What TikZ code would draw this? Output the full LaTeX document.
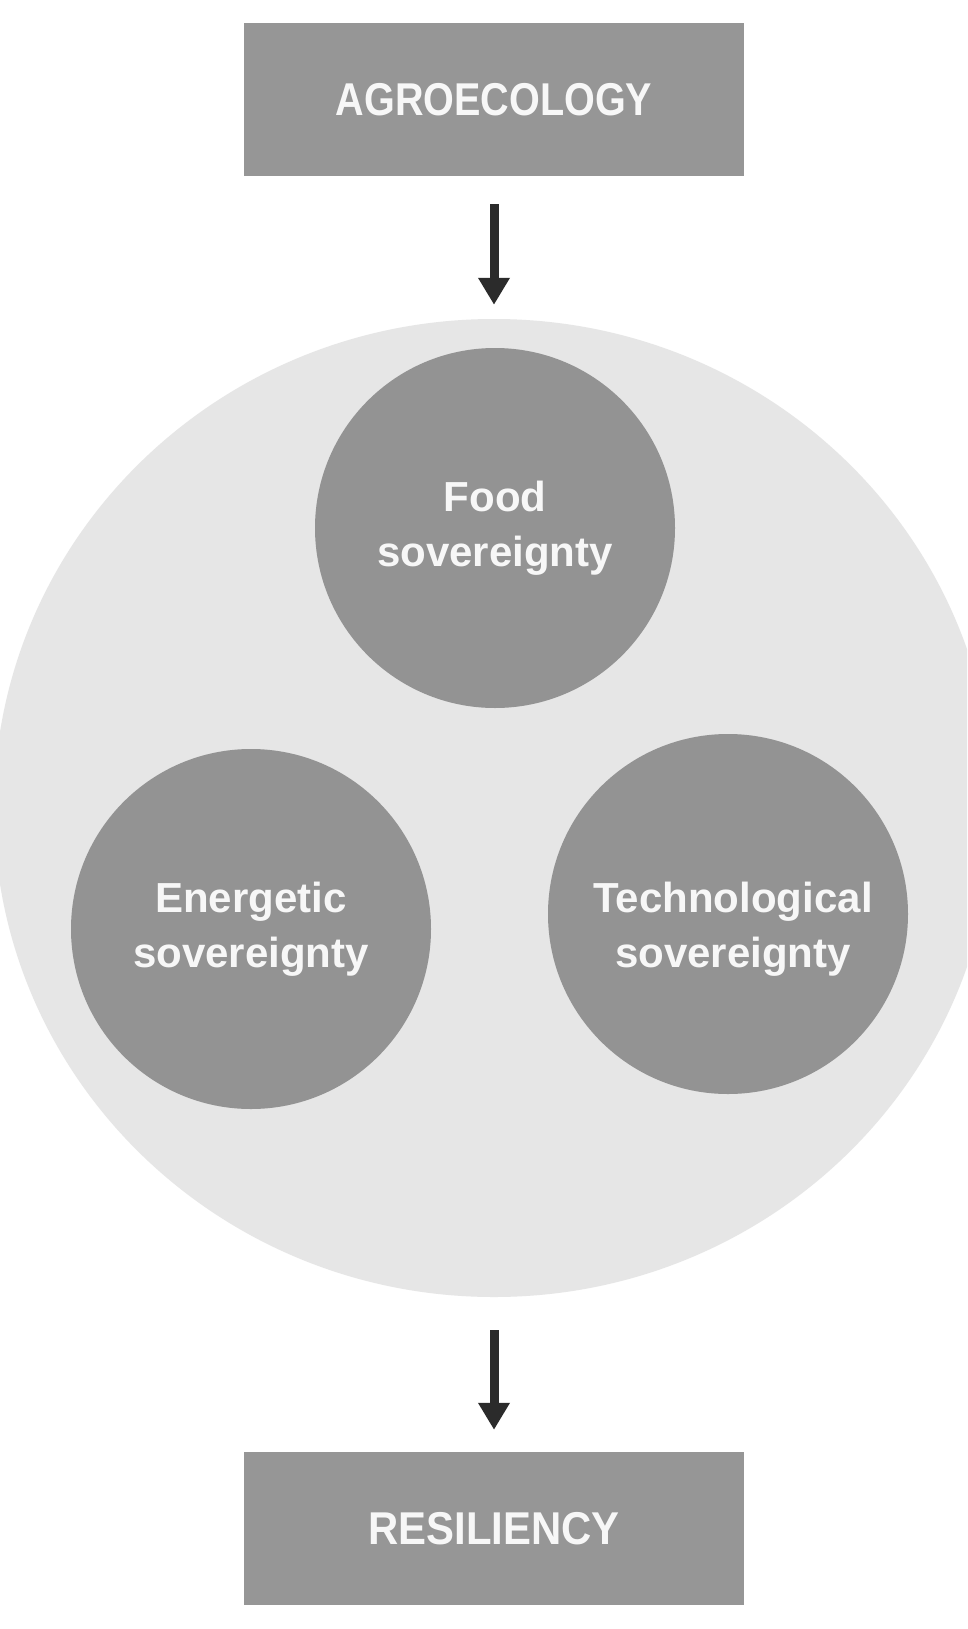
\documentclass[tikz,border=0pt]{standalone}
\usepackage{fontspec}
\usepackage{graphicx}
\setmainfont{Liberation Sans}
\usetikzlibrary{arrows.meta,shapes.geometric}
\definecolor{boxgray}{HTML}{969696}
\definecolor{circgray}{HTML}{939393}
\definecolor{outergray}{HTML}{E6E6E6}
\definecolor{arrowdark}{HTML}{2B2B2B}
\definecolor{txtwhite}{HTML}{F7F7F7}
\tikzset{
  titlebox/.style={rectangle, fill=boxgray, draw=none, minimum width=500pt, minimum height=153pt, inner sep=0pt,
    text=txtwhite, font=\fontsize{46}{55}\selectfont\bfseries},
  subcircle/.style={circle, fill=circgray, draw=none, minimum size=360pt, inner sep=0pt},
  ctext/.style={text=txtwhite, align=center, inner sep=0pt, font=\fontsize{42}{55}\selectfont\bfseries},
  bigarrow/.style={draw=arrowdark, line width=9pt, -{Triangle[width=30pt,length=27pt]}, arrowdark}
}
\begin{document}
\begin{tikzpicture}[x=1pt,y=-1pt]
\useasboundingbox (0,0) rectangle (967,1629);
\fill[white] (0,0) rectangle (967,1629);
\begin{scope}
\clip (0,0) rectangle (967,1629);
\node[ellipse, fill=outergray, draw=none, minimum width=1000pt, minimum height=978pt, inner sep=0pt] (outer) at (494,808) {};
\end{scope}
\node[titlebox] (agro) at (494,99.5) {\scalebox{0.86}[1]{AGROECOLOGY}};
\node[titlebox] (resil) at (494,1528.5) {\scalebox{0.91}[1]{RESILIENCY}};
\node[subcircle] (food) at (495,528) {};
\node[subcircle] (energ) at (251,929) {};
\node[subcircle] (tech) at (728,914) {};
\node[ctext] (foodtxt) at (food.center) {Food\\sovereignty};
\node[ctext] (energtxt) at (energ.center) {Energetic\\sovereignty};
\node[ctext] (techtxt) at ([xshift=5pt,yshift=-15pt]tech.center) {Technological\\sovereignty};
\draw[bigarrow, shorten <=28pt, shorten >=14pt] (agro.south) -- (agro.south |- outer.north);
\draw[bigarrow, shorten <=33pt, shorten >=22pt] (resil.north |- outer.south) -- (resil.north);
\end{tikzpicture}
\end{document}
